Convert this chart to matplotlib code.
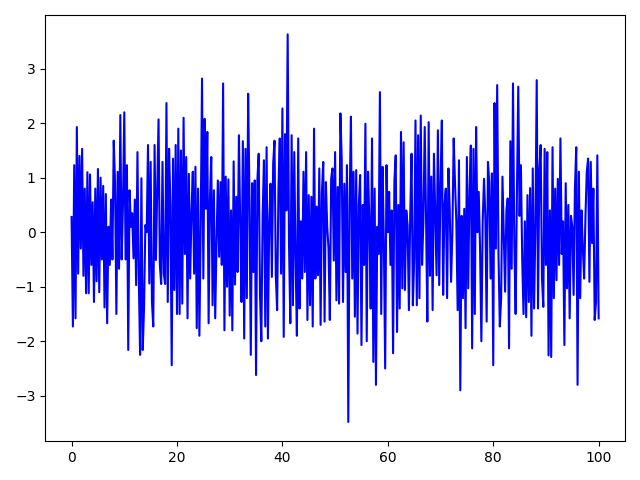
import numpy as np
import matplotlib
matplotlib.use('Agg')
import matplotlib.pyplot as plt

# values, one every 0.25 on the x axis (0 .. 100)
seg_0_8 = [0.28, -1.73, 1.23, -1.58, 1.93, -0.76, 1.4, -0.3, 1.53, -0.8,
           0.8, -1.12, 1.1, -1.12, 1.06, -0.6, 0.55, -1.28, 0.8, -0.9,
           1.16, -1.1, 1.0, -0.5, 0.85, -1.38, 0.7, -1.67, 0.1, -0.6,
           0.6, -0.5, 1.68, 0.9]
seg_8_17 = [-1.5, 1.11, -0.67, 2.15, -0.5, 0.5, 2.2, -0.5, 1.23, -2.16,
            0.77, 0.1, 0.35, -0.48, 0.6, -0.97, 1.47, -0.8, -2.25, 0.99,
            -2.16, -1.38, 0.13, 0.0, 1.6, -0.94, 1.29, -1.28, -1.73, 1.6,
            -0.51, 0.8, 2.07, -0.6, -0.95, 1.29]
seg_17_26 = [-0.76, -0.95, 2.37, -1.28, 1.53, 0.5, -2.44, 1.35, -1.06, 1.6,
             -1.5, 1.9, -1.5, 1.5, -1.31, 2.1, -0.4, 1.38, -1.58, 1.07,
             -0.85, 0.37, 1.11, -0.76, 1.2, -1.76, 0.8, -1.9, 0.13, 2.82,
             -0.85, 2.08, 0.43, 1.84, -1.67, 0.6, 1.38]
seg_26_35 = [-1.34, 0.77, -1.58, -0.2, 0.95, -0.45, 0.92, -0.6, 2.73, -1.8,
             1.02, -1.0, 0.97, -1.53, 0.4, -1.8, 1.3, -0.96, 0.65, -0.73,
             1.78, 0.13, -1.28, 1.67, -1.95, 1.53, -1.21, 2.54, 0.6, -2.25,
             0.9, -0.73, 0.95, -2.62, 0.95, 1.44, -1.15]
seg_36_44 = [-2.0, 0.3, 1.32, -1.73, 1.56, -1.95, 0.2, 0.89, -0.82, 1.26,
             1.68, -0.8, -1.43, 0.8, 1.72, -0.76, 2.27, -1.92, 1.8, 0.4,
             3.63, -0.18, -1.67, 1.78, -1.34, 1.47, -0.48, -1.9, 1.72, -1.4,
             0.2, -0.85, 1.11, -0.73, 1.47, -1.61]
seg_45_54 = [0.68, -1.34, 0.65, -1.73, 1.9, -0.85, 0.47, -0.79, 1.17, -1.7,
             0.74, 1.29, -1.64, 0.92, 0.1, -0.3, -1.61, 0.98, 1.17, -0.52,
             1.47, -1.25, 0.83, -1.31, 2.18, 1.35, -1.28, 0.89, -0.73, 1.23,
             -3.48, 0.5, 2.12, -0.85, 1.11, -1.55, 1.14]
seg_54_63 = [-1.86, 0.5, 1.05, -2.07, 0.5, -0.6, 1.99, -2.0, 1.11, 0.2,
             -1.4, 1.72, -2.38, 0.8, -2.8, 0.1, -0.4, 2.57, -1.5, 1.2,
             -0.2, -2.5, 1.23, 0.0, 0.74, -0.6, 0.4, -2.22, 0.95, 1.41,
             -1.83, 0.5, -1.4, 1.84, -1.03, 1.65]
seg_63_72 = [-1.06, 0.4, 0.13, -1.43, 0.3, 1.44, -1.34, -0.53, 2.05, -1.34,
             1.78, -1.21, 2.14, -0.6, 0.2, 1.93, 0.3, -1.64, 2.02, -0.8,
             1.02, -1.43, 1.44, 0.3, -0.79, 1.87, -0.97, 0.92, 2.05, -1.15,
             0.5, 0.8, -1.21, 1.17, 0.4, -0.91]
seg_72_81 = [0.0, 1.72, 0.89, 0.2, -1.43, 1.32, -2.9, 0.3, -1.21, 0.43,
             -1.76, 1.38, -1.03, 0.74, 1.59, -2.13, 1.53, -1.5, 1.93, 0.0,
             0.74, -0.3, -2.0, 0.2, 0.98, 0.3, -1.64, 1.29, 0.9, -0.85,
             1.08, -2.44, 2.37, -0.3, 2.7, -0.4, -1.73]
seg_81_90 = [-1.21, 1.02, 0.0, -1.09, 0.4, 0.62, -2.13, 1.67, -0.67, 2.73,
             -0.2, -1.5, 0.74, 2.67, 0.3, 1.23, -0.5, -1.5, 0.2, -1.56,
             0.68, -1.28, 0.81, -1.9, 1.17, -1.4, 0.1, 2.79, -1.4, 1.17,
             1.6, -0.85, -1.37, 1.53, -0.6, 1.47]
seg_90_100 = [-2.26, 0.4, -2.29, 1.56, -1.21, 0.8, -0.88, 0.98, -0.6, 1.72,
              -0.4, 0.2, -2.07, 0.9, -1.03, 0.5, -1.58, 0.3, 0.1, -1.15,
              0.8, 1.56, -2.8, 1.11, -1.21, 0.4, -0.3, -0.85, 0.3, 1.11,
              1.35, -0.91, 1.29, -0.2, 0.8, -1.61, -1.28, 1.41, -1.58]

y = (seg_0_8 + seg_8_17 + seg_17_26 + seg_26_35 + seg_36_44 + seg_45_54
     + seg_54_63 + seg_63_72 + seg_72_81 + seg_81_90 + seg_90_100)
x = np.linspace(0, 100, len(y))

fig, ax = plt.subplots(figsize=(6.4, 4.8), dpi=100)
ax.plot(x, y, color='blue')
fig.tight_layout()
fig.savefig('out.png')
